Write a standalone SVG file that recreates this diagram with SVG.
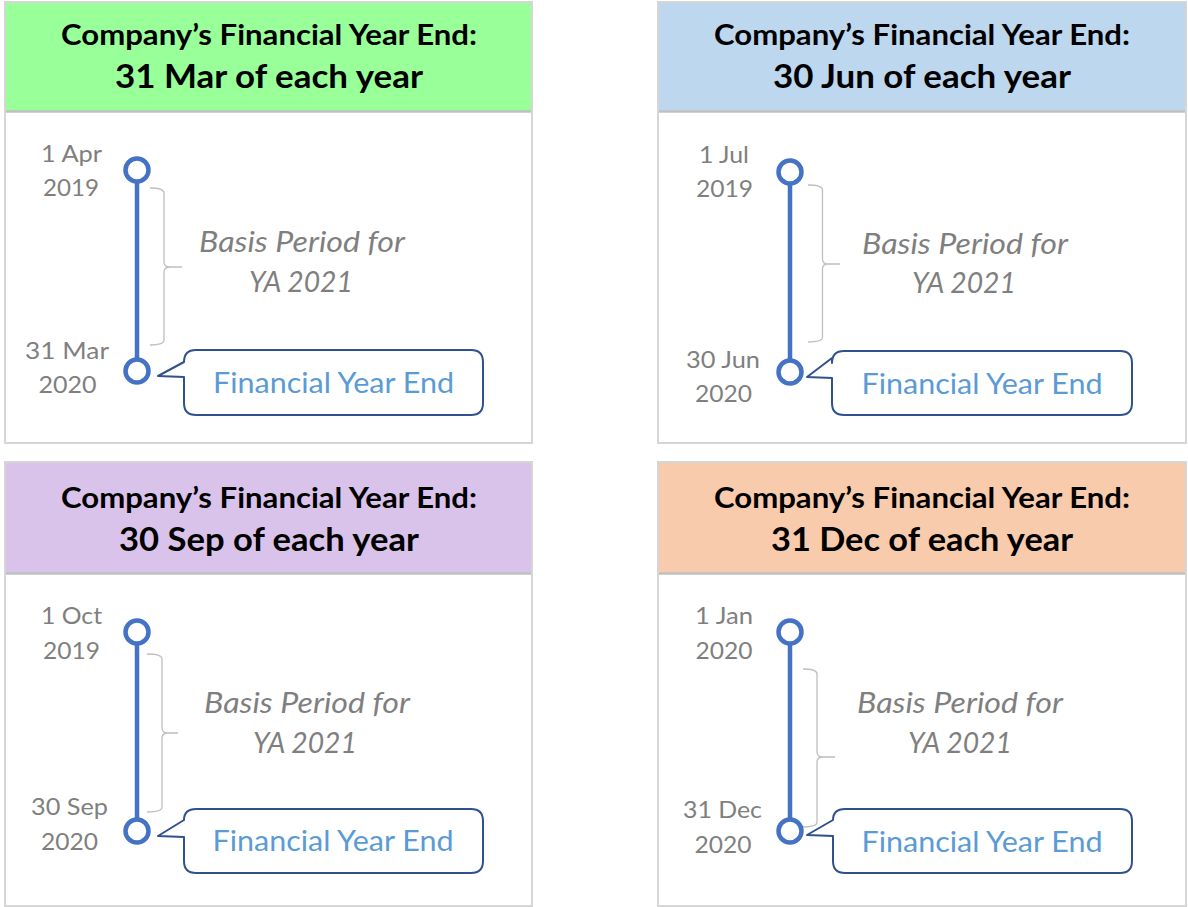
<svg xmlns="http://www.w3.org/2000/svg" width="1188" height="907" viewBox="0 0 1188 907">
<style>
.frame{fill:#ffffff;stroke:#d6d6d6;stroke-width:2}
.sep{stroke:#c0c0c0;stroke-width:2.5}
.t1{font-family:Lato,"Liberation Sans",sans-serif;font-weight:bold;font-size:28.5px;fill:#000000;text-anchor:middle}
.t2{font-family:Lato,"Liberation Sans",sans-serif;font-weight:bold;font-size:32px;fill:#000000;text-anchor:middle}
.date{font-family:Lato,"Liberation Sans",sans-serif;font-size:24px;fill:#7f7f7f;text-anchor:middle}
.basis{font-family:Lato,"Liberation Sans",sans-serif;font-style:italic;font-size:28px;fill:#7f7f7f;text-anchor:middle}
.fye{font-family:Lato,"Liberation Sans",sans-serif;font-size:29px;fill:#5b9bd5;text-anchor:middle}
.call{fill:#ffffff;stroke:#2f528f;stroke-width:2;stroke-linejoin:round}
.tl{stroke:#4472c4;stroke-width:4.5}
.dot{fill:#ffffff;stroke:#4472c4;stroke-width:4.5}
.brace{fill:none;stroke:#bfbfbf;stroke-width:1.3}
</style>
<rect width="1188" height="907" fill="#ffffff"/>

<g id="panel-mar">
<rect class="frame" x="5" y="2" width="527" height="441"/>
<rect x="6" y="3" width="525" height="108" fill="#99ff99"/>
<line class="sep" x1="6" y1="111.5" x2="531" y2="111.5"/>
<text class="t1" x="269" y="45" textLength="416" lengthAdjust="spacingAndGlyphs">Company’s Financial Year End:</text>
<text class="t2" x="269" y="88" textLength="308" lengthAdjust="spacingAndGlyphs">31 Mar of each year</text>
</g>
<g id="panel-jun">
<rect class="frame" x="658" y="2" width="528" height="441"/>
<rect x="659" y="3" width="526" height="108" fill="#bdd7ee"/>
<line class="sep" x1="659" y1="111.5" x2="1185" y2="111.5"/>
<text class="t1" x="922" y="45" textLength="416" lengthAdjust="spacingAndGlyphs">Company’s Financial Year End:</text>
<text class="t2" x="922" y="88" textLength="298" lengthAdjust="spacingAndGlyphs">30 Jun of each year</text>
</g>
<g id="panel-sep">
<rect class="frame" x="5" y="462" width="527" height="444"/>
<rect x="6" y="463" width="525" height="110" fill="#d9c3ea"/>
<line class="sep" x1="6" y1="573.5" x2="531" y2="573.5"/>
<text class="t1" x="269" y="508" textLength="416" lengthAdjust="spacingAndGlyphs">Company’s Financial Year End:</text>
<text class="t2" x="269" y="551" textLength="300" lengthAdjust="spacingAndGlyphs">30 Sep of each year</text>
</g>
<g id="panel-dec">
<rect class="frame" x="658" y="462" width="528" height="444"/>
<rect x="659" y="463" width="526" height="110" fill="#f8cbad"/>
<line class="sep" x1="659" y1="573.5" x2="1185" y2="573.5"/>
<text class="t1" x="922" y="508" textLength="416" lengthAdjust="spacingAndGlyphs">Company’s Financial Year End:</text>
<text class="t2" x="922" y="551" textLength="302" lengthAdjust="spacingAndGlyphs">31 Dec of each year</text>
</g>

<g id="connectors">
<line class="tl" x1="137" y1="170" x2="137" y2="371"/>
<line class="tl" x1="790" y1="172" x2="790" y2="372"/>
<line class="tl" x1="137" y1="632" x2="137" y2="831"/>
<line class="tl" x1="790" y1="632" x2="790" y2="831"/>
<path class="brace" d="M150,188 Q164,188 164,193 V262 Q164,267 170,267 H182 M170,267 Q164,267 164,272 V340 Q164,345 150,345"/>
<path class="brace" d="M808,185 Q822.5,185 822.5,190 V259 Q822.5,264 828,264 H840 M828,264 Q822.5,264 822.5,269 V337 Q822.5,342 808,342"/>
<path class="brace" d="M147,654 Q162,654 162,659 V728 Q162,733 168,733 H178 M168,733 Q162,733 162,738 V807 Q162,812 147,812"/>
<path class="brace" d="M803,669 Q817,669 817,674 V752 Q817,757 823,757 H835 M823,757 Q817,757 817,762 V822 Q817,827 803,827"/>
</g>

<g id="timeline-mar">
<circle class="dot" cx="137" cy="170" r="11.5"/>
<circle class="dot" cx="137" cy="371" r="11.5"/>
<text class="date" x="71.5" y="162" textLength="61" lengthAdjust="spacingAndGlyphs">1 Apr</text>
<text class="date" x="71" y="196" textLength="56" lengthAdjust="spacingAndGlyphs">2019</text>
<text class="date" x="67" y="359" textLength="84" lengthAdjust="spacingAndGlyphs">31 Mar</text>
<text class="date" x="67.5" y="393" textLength="58" lengthAdjust="spacingAndGlyphs">2020</text>
<text class="basis" x="302" y="252" textLength="206" lengthAdjust="spacingAndGlyphs">Basis Period for</text>
<text class="basis" x="301" y="292" textLength="104" lengthAdjust="spacingAndGlyphs">YA 2021</text>
</g>
<g id="callout-mar">
<path class="call" d="M196,350 H471 Q483,350 483,362 V403 Q483,415 471,415 H196 Q184,415 184,403 V377 L158,376 L184,362 Q184,350 196,350 Z"/>
<text class="fye" x="333.5" y="393" textLength="241" lengthAdjust="spacingAndGlyphs">Financial Year End</text>
</g>

<g id="timeline-jun">
<circle class="dot" cx="790" cy="172" r="11.5"/>
<circle class="dot" cx="790" cy="372" r="11.5"/>
<text class="date" x="724" y="163" textLength="50" lengthAdjust="spacingAndGlyphs">1 Jul</text>
<text class="date" x="724.5" y="197" textLength="57" lengthAdjust="spacingAndGlyphs">2019</text>
<text class="date" x="723" y="368" textLength="74" lengthAdjust="spacingAndGlyphs">30 Jun</text>
<text class="date" x="723.5" y="402" textLength="57" lengthAdjust="spacingAndGlyphs">2020</text>
<text class="basis" x="965" y="254" textLength="206" lengthAdjust="spacingAndGlyphs">Basis Period for</text>
<text class="basis" x="964" y="293" textLength="104" lengthAdjust="spacingAndGlyphs">YA 2021</text>
</g>
<g id="callout-jun">
<path class="call" d="M844,351 H1120 Q1132,351 1132,363 V403 Q1132,415 1120,415 H844 Q832,415 832,403 V378 L807,377 L832,358 V363 Q832,351 844,351 Z"/>
<text class="fye" x="982" y="394" textLength="241" lengthAdjust="spacingAndGlyphs">Financial Year End</text>
</g>

<g id="timeline-sep">
<circle class="dot" cx="137" cy="632" r="11.5"/>
<circle class="dot" cx="137" cy="831" r="11.5"/>
<text class="date" x="71.5" y="624" textLength="61" lengthAdjust="spacingAndGlyphs">1 Oct</text>
<text class="date" x="71.5" y="659" textLength="57" lengthAdjust="spacingAndGlyphs">2019</text>
<text class="date" x="69.5" y="815" textLength="77" lengthAdjust="spacingAndGlyphs">30 Sep</text>
<text class="date" x="69.5" y="850" textLength="57" lengthAdjust="spacingAndGlyphs">2020</text>
<text class="basis" x="307" y="713" textLength="206" lengthAdjust="spacingAndGlyphs">Basis Period for</text>
<text class="basis" x="305" y="753" textLength="104" lengthAdjust="spacingAndGlyphs">YA 2021</text>
</g>
<g id="callout-sep">
<path class="call" d="M196,809 H471 Q483,809 483,821 V861 Q483,873 471,873 H196 Q184,873 184,861 V837 L158,836 L184,820 Q184,809 196,809 Z"/>
<text class="fye" x="333" y="851" textLength="241" lengthAdjust="spacingAndGlyphs">Financial Year End</text>
</g>

<g id="timeline-dec">
<circle class="dot" cx="790" cy="632" r="11.5"/>
<circle class="dot" cx="790" cy="831" r="11.5"/>
<text class="date" x="724" y="624" textLength="58" lengthAdjust="spacingAndGlyphs">1 Jan</text>
<text class="date" x="724" y="659" textLength="57" lengthAdjust="spacingAndGlyphs">2020</text>
<text class="date" x="722.5" y="818" textLength="79" lengthAdjust="spacingAndGlyphs">31 Dec</text>
<text class="date" x="723" y="853" textLength="57" lengthAdjust="spacingAndGlyphs">2020</text>
<text class="basis" x="960" y="713" textLength="206" lengthAdjust="spacingAndGlyphs">Basis Period for</text>
<text class="basis" x="960" y="753" textLength="104" lengthAdjust="spacingAndGlyphs">YA 2021</text>
</g>
<g id="callout-dec">
<path class="call" d="M845,809 H1120 Q1132,809 1132,821 V861 Q1132,873 1120,873 H845 Q833,873 833,861 V836 L807,835 L833,820 Q833,809 845,809 Z"/>
<text class="fye" x="982" y="852" textLength="241" lengthAdjust="spacingAndGlyphs">Financial Year End</text>
</g>
</svg>
